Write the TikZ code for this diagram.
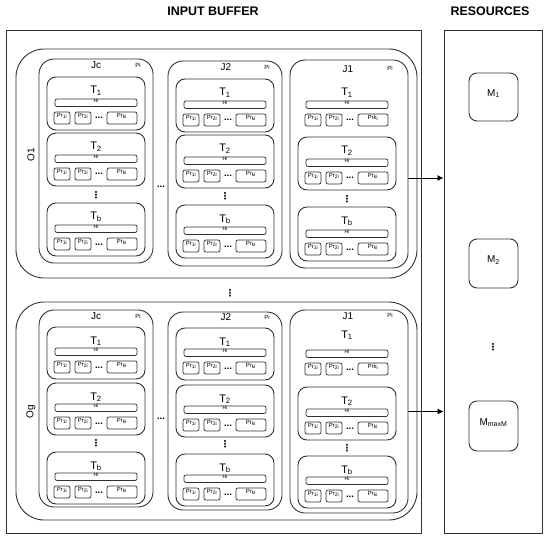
\documentclass[tikz,border=0pt]{standalone}
\usepackage{fontspec}
\setmainfont{Liberation Sans}
\newfontfamily\djv{DejaVu Sans}
\usetikzlibrary{arrows.meta,fit}
\definecolor{lnc}{HTML}{303030}
\newcommand\lbloff{17}
\newcommand\Tcont[6]{%
  \node[tlbl, anchor=base] (#1l) at (#2+49, #3+\lbloff) {#5};
  \node[hibar, fit={(#2+8,#3+#4-31) (#2+90,#3+#4-23.5)}] (#1h) {Hi};
  \node[prbox, fit={(#2+7,#3+#4-18) (#2+23,#3+#4-6)}] (#1a) {Pr\textsubscript{1i}};
  \node[prbox, fit={(#2+28,#3+#4-18) (#2+44,#3+#4-6)}] (#1b) {Pr\textsubscript{2i}};
  \node[hdots] (#1d) at (#2+52,#3+#4-11) {...};
  \node[prbox, fit={(#2+60,#3+#4-18) (#2+90,#3+#4-6)}] (#1k) {#6};
}
\newcommand\Tbox[6]{%
  \node[tbox, fit={(#2,#3) (#2+98,#3+#4)}] (#1) {};
  \Tcont{#1}{#2}{#3}{#4}{#5}{#6}%
}
\begin{document}
\begin{tikzpicture}[x=1bp,y=-1bp,
  frame/.style={draw=lnc, line width=0.9bp, rectangle, inner sep=0pt, text=black},
  bigbox/.style={frame},
  grp/.style={frame, rounded corners=28bp},
  jbox/.style={frame, rounded corners=15bp},
  tbox/.style={frame, rounded corners=9bp},
  mbox/.style={frame, rounded corners=8bp, font=\fontsize{10}{12}\selectfont},
  hibar/.style={frame, line width=0.7bp, rounded corners=2bp, font=\fontsize{5}{6}\selectfont},
  prbox/.style={frame, line width=0.7bp, rounded corners=2bp, font=\fontsize{6}{7}\selectfont},
  tlbl/.style={inner sep=0pt, font=\fontsize{11}{13}\selectfont},
  jlbl/.style={inner sep=0pt, font=\fontsize{10}{12}\selectfont},
  pil/.style={inner sep=0pt, font=\fontsize{6}{7}\selectfont},
  glbl/.style={inner sep=0pt, rotate=90, font=\fontsize{10}{12}\selectfont},
  ttl/.style={inner sep=0pt, font=\bfseries\fontsize{12.5}{14}\selectfont},
  hdots/.style={inner sep=0pt, anchor=base, font=\bfseries\fontsize{9.5}{10}\selectfont},
  vdots/.style={inner sep=0pt, font=\djv\bfseries\fontsize{9.5}{10}\selectfont},
  arr/.style={draw=black, line width=0.8bp, -{Latex[length=6bp,width=6bp]}}
]
\useasboundingbox (0,0) rectangle (550,542);

% titles
\node[ttl] (tib) at (213,11) {INPUT BUFFER};
\node[ttl] (tres) at (490,11) {RESOURCES};

% outer boxes
\node[bigbox, fit={(6,30) (421,533)}] (ib) {};
\node[bigbox, fit={(444,30) (542,533)}] (res) {};

% ---------- group O1 ----------
\node[grp, fit={(16,49) (417,278)}] (o1) {};
\node[glbl] (o1l) at (31,155) {O1};

\node[jbox, fit={(39,59) (153,263)}] (o1c) {};
\node[jlbl] (o1cl) at (96,65) {Jc};
\node[pil] (o1cp) at (138,65) {Pi};
\Tbox{o1c1}{47}{77}{53}{T\textsubscript{1}}{Pr\textsubscript{ki}}
\Tbox{o1c2}{47}{133}{53}{T\textsubscript{2}}{Pr\textsubscript{ki}}
\node[vdots] (o1cv) at (96,195) {⋮};
\Tbox{o1cb}{47}{203}{53}{T\textsubscript{b}}{Pr\textsubscript{ki}}

\node[hdots] (o1h) at (161,188) {...};

\node[jbox, fit={(168,61) (282,266)}] (o1j2) {};
\node[jlbl] (o1j2l) at (226,67) {J2};
\node[pil] (o1j2p) at (267,67) {Pi};
\Tbox{o1d1}{176}{79}{53}{T\textsubscript{1}}{Pr\textsubscript{ki}}
\Tbox{o1d2}{176}{135}{53}{T\textsubscript{2}}{Pr\textsubscript{ki}}
\node[vdots] (o1dv) at (225,196) {⋮};
\Tbox{o1db}{176}{205}{53}{T\textsubscript{b}}{Pr\textsubscript{ki}}

\node[jbox, fit={(290,60) (408,268)}] (o1j1) {};
\node[jlbl] (o1j1l) at (348,69) {J1};
\node[pil] (o1j1p) at (390,68) {Pi};
\Tcont{o1e1}{298}{79}{53}{T\textsubscript{1}}{Prk\textsubscript{i}}
\Tbox{o1e2}{298}{137}{53}{T\textsubscript{2}}{Pr\textsubscript{ki}}
\node[vdots] (o1ev) at (347,199) {⋮};
\Tbox{o1eb}{298}{207}{54}{T\textsubscript{b}}{Pr\textsubscript{ki}}

\node[vdots] (gv) at (230,293) {⋮};

% ---------- group Og ----------
\node[grp, fit={(16,302) (417,520)}] (og) {};
\node[glbl] (ogl) at (31,412) {Og};

\node[jbox, fit={(39,310) (153,507)}] (ogc) {};
\node[jlbl] (ogcl) at (96,316) {Jc};
\node[pil] (ogcp) at (138,316) {Pi};
\Tbox{ogc1}{47}{327}{52}{T\textsubscript{1}}{Pr\textsubscript{ki}}
\Tbox{ogc2}{47}{383}{52}{T\textsubscript{2}}{Pr\textsubscript{ki}}
\node[vdots] (ogcv) at (96,443) {⋮};
\Tbox{ogcb}{47}{452}{52}{T\textsubscript{b}}{Pr\textsubscript{ki}}

\node[hdots] (ogh) at (161,419) {...};

\node[jbox, fit={(168,312) (282,510)}] (ogj2) {};
\node[jlbl] (ogj2l) at (226,317) {J2};
\node[pil] (ogj2p) at (267,317) {Pi};
\Tbox{ogd1}{176}{328}{52}{T\textsubscript{1}}{Pr\textsubscript{ki}}
\Tbox{ogd2}{176}{385}{52}{T\textsubscript{2}}{Pr\textsubscript{ki}}
\node[vdots] (ogdv) at (225,444) {⋮};
\Tbox{ogdb}{176}{454}{52}{T\textsubscript{b}}{Pr\textsubscript{ki}}

\node[jbox, fit={(290,310) (408,513)}] (ogj1) {};
\node[jlbl] (ogj1l) at (348,316) {J1};
\node[pil] (ogj1p) at (390,315) {Pi};
\begin{scope}
\renewcommand\lbloff{9}
\Tcont{oge1}{298}{329}{52}{T\textsubscript{1}}{Prk\textsubscript{i}}
\end{scope}
\Tbox{oge2}{298}{387}{53}{T\textsubscript{2}}{Pr\textsubscript{ki}}
\node[vdots] (ogev) at (347,448) {⋮};
\Tbox{ogeb}{298}{456}{52}{T\textsubscript{b}}{Pr\textsubscript{ki}}

% ---------- resources ----------
\node[mbox, fit={(469,73) (518,121)}] (m1) {M\textsubscript{1}};
\node[mbox, fit={(469,239) (518,288)}] (m2) {M\textsubscript{2}};
\node[vdots] (mv) at (493,347) {⋮};
\node[mbox, fit={(469,401) (518,451)}] (mm) {M\textsubscript{maxM}};

% ---------- connectors ----------
\coordinate (s1) at ([yshift=-14bp]o1j1.east);
\draw[arr] (s1) -- (s1 -| res.west);
\draw[arr] (ogj1.east) -- (ogj1.east -| res.west);
\end{tikzpicture}
\end{document}
